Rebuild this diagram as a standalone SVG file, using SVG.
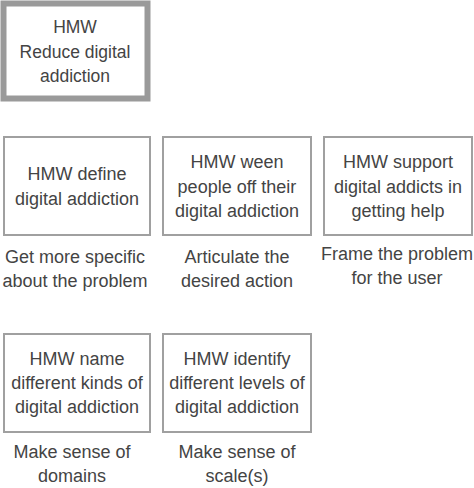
<svg xmlns="http://www.w3.org/2000/svg" width="474" height="488" viewBox="0 0 474 488">
<style>
.box{fill:#fff;stroke:#a0a0a0;stroke-width:2}
.main{fill:#fff;stroke:#9a9a9a;stroke-width:6}
text{font-family:"Liberation Sans",Arial,sans-serif;font-size:18px;fill:#444;text-anchor:middle}
.lbl{font-size:18px}
.top{font-size:17.5px}
</style>
<rect width="474" height="488" fill="#fff"/>
<g id="main">
<rect class="main" x="3.5" y="3.5" width="144" height="95"/>
<text class="top" x="75" y="33">HMW</text>
<text class="top" x="75" y="58">Reduce digital</text>
<text class="top" x="75" y="82">addiction</text>
</g>
<g id="n1">
<rect class="box" x="4" y="137" width="146" height="98"/>
<text x="77" y="180">HMW define</text>
<text x="77" y="205">digital addiction</text>
<text class="lbl" x="75" y="263">Get more specific</text>
<text class="lbl" x="75" y="287">about  the problem</text>
</g>
<g id="n2">
<rect class="box" x="163" y="137" width="148" height="98"/>
<text x="237" y="168">HMW ween</text>
<text x="237" y="193">people off their</text>
<text x="237" y="217">digital addiction</text>
<text class="lbl" x="237" y="263">Articulate the</text>
<text class="lbl" x="237" y="287">desired action</text>
</g>
<g id="n3">
<rect class="box" x="324" y="137" width="148" height="98"/>
<text x="398" y="168">HMW support</text>
<text x="398" y="193">digital addicts in</text>
<text x="398" y="217">getting help</text>
<text class="lbl" x="397" y="260">Frame the problem</text>
<text class="lbl" x="397" y="284">for the user</text>
</g>
<g id="n4">
<rect class="box" x="4" y="334" width="146" height="98"/>
<text x="77" y="365">HMW name</text>
<text x="77" y="389">different kinds of</text>
<text x="77" y="413">digital addiction</text>
<text class="lbl" x="72" y="458">Make sense of</text>
<text class="lbl" x="72" y="482">domains</text>
</g>
<g id="n5">
<rect class="box" x="163" y="334" width="148" height="98"/>
<text x="237" y="365">HMW identify</text>
<text x="237" y="389">different levels of</text>
<text x="237" y="413">digital addiction</text>
<text class="lbl" x="237" y="458">Make sense of</text>
<text class="lbl" x="237" y="482">scale(s)</text>
</g>
<g id="connectors"></g>
</svg>
